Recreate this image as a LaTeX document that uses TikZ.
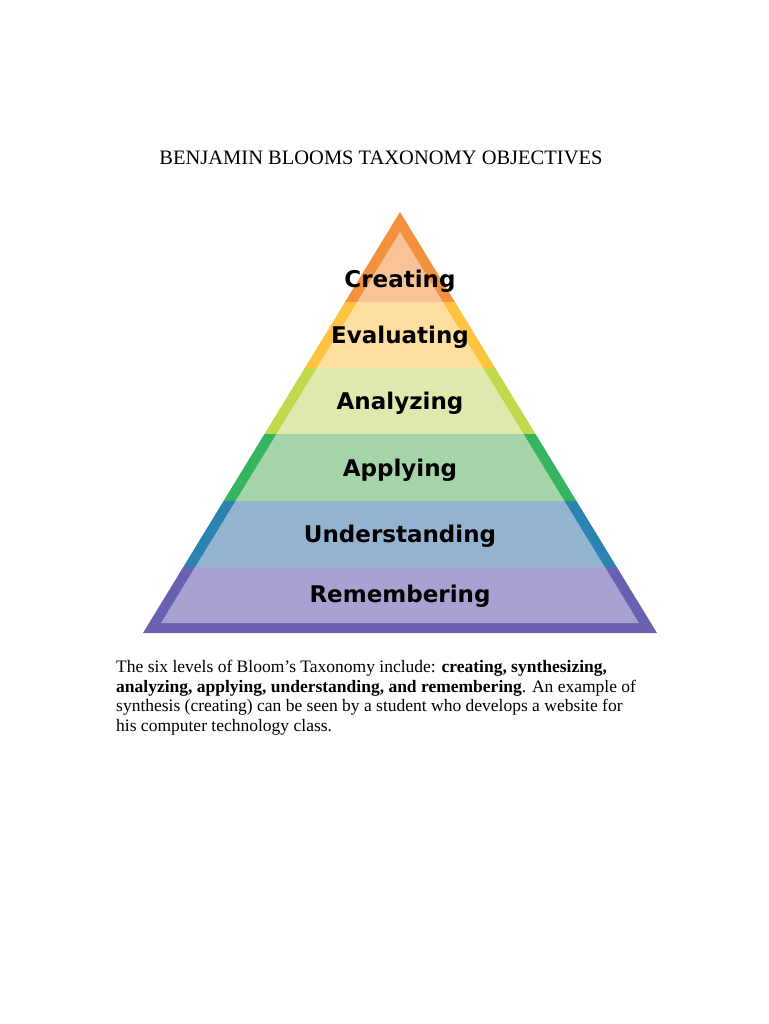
\documentclass[tikz,border=0pt]{standalone}
\usepackage{fontspec}
\setmainfont{Liberation Serif}
\newfontfamily\pyrfont{DejaVu Sans}
\definecolor{b1}{HTML}{F4913E}\definecolor{f1}{HTML}{FAC397}
\definecolor{b2}{HTML}{FDC341}\definecolor{f2}{HTML}{FEDFA0}
\definecolor{b3}{HTML}{C2D94E}\definecolor{f3}{HTML}{DEE9AE}
\definecolor{b4}{HTML}{35B462}\definecolor{f4}{HTML}{A4D4A8}
\definecolor{b5}{HTML}{2A83B0}\definecolor{f5}{HTML}{94B3D0}
\definecolor{b6}{HTML}{6761AF}\definecolor{f6}{HTML}{A8A2D2}
\tikzset{lvl/.style={font=\pyrfont\bfseries\fontsize{23}{26}\selectfont,anchor=base},
 para/.style={font=\fontsize{17.5}{20}\selectfont,anchor=base west,inner sep=0pt}}
\begin{document}
\begin{tikzpicture}[x=1pt,y=-1pt]
\useasboundingbox (0,0) rectangle (768,1024);
\fill[white] (0,0) rectangle (768,1024);
\def\bands{212/302/b1/f1,302/368/b2/f2,368/434/b3/f3,434/501/b4/f4,501/567/b5/f5,567/633/b6/f6}
\foreach \ya/\yb/\bc/\fc in \bands {
 \begin{scope}
  \clip (0,\ya) rectangle (768,\yb);
  \fill[\bc] (400,212) -- (657,633) -- (143,633) -- cycle;
  \fill[\fc] (400,232) -- (639,623) -- (161,623) -- cycle;
 \end{scope}}
\node[lvl] (c) at (400,287) {Creating};
\node[lvl] (e) at (400,343) {Evaluating};
\node[lvl] (a) at (400,409) {Analyzing};
\node[lvl] (p) at (400,476) {Applying};
\node[lvl] (u) at (400,542) {Understanding};
\node[lvl] (r) at (400,602) {Remembering};
\node[font=\fontsize{20.5}{24}\selectfont,anchor=base] (t) at (381,165) {BENJAMIN BLOOMS TAXONOMY OBJECTIVES};
\node[para] (l1) at (116,672) {The six levels of Bloom\char39 s Taxonomy include: \textbf{creating, synthesizing,}};
\node[para] (l2) at (116,692) {\textbf{analyzing, applying, understanding, and remembering}. An example of};
\node[para] (l3) at (116,711) {synthesis (creating) can be seen by a student who develops a website for};
\node[para] (l4) at (116,731) {his computer technology class.};
\end{tikzpicture}
\end{document}
